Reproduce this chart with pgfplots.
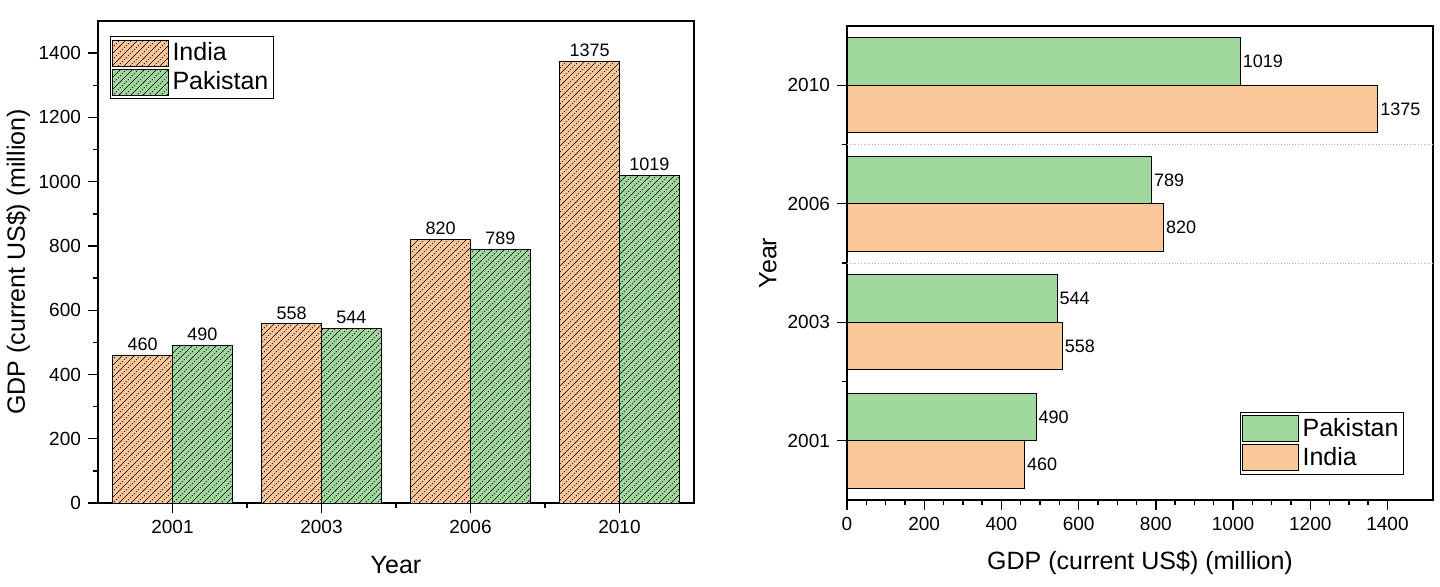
\documentclass[border=0pt]{standalone}
\usepackage{pgfplots}
\pgfplotsset{compat=1.18}
\usepackage{fontspec}
\setmainfont{Liberation Sans}
\usetikzlibrary{patterns}

\definecolor{peach}{RGB}{250,200,152}
\definecolor{leaf}{RGB}{160,216,158}

% diagonal hatch with a dotted line between the solid ones
\pgfdeclarepatternformonly{hatchdot}{\pgfqpoint{-0.5pt}{-0.5pt}}{\pgfqpoint{6.5pt}{6.5pt}}{\pgfqpoint{6pt}{6pt}}{%
  \pgfsetlinewidth{0.3pt}%
  \pgfpathmoveto{\pgfqpoint{-0.5pt}{-0.5pt}}%
  \pgfpathlineto{\pgfqpoint{6.5pt}{6.5pt}}%
  \pgfusepath{stroke}%
  \pgfsetlinewidth{0.45pt}%
  \pgfsetdash{{0.45pt}{1pt}}{0pt}%
  \pgfpathmoveto{\pgfqpoint{3pt}{0pt}}%
  \pgfpathlineto{\pgfqpoint{6pt}{3pt}}%
  \pgfpathmoveto{\pgfqpoint{0pt}{3pt}}%
  \pgfpathlineto{\pgfqpoint{3pt}{6pt}}%
  \pgfusepath{stroke}%
}

\pgfkeys{/pgf/number format/1000 sep={}}

\pgfplotsset{
  gdp/.style={
    scale only axis,
    axis line style={line width=0.7pt},
    every tick/.style={line width=0.7pt, black},
    tick align=outside,
    major tick length=5pt,
    minor tick length=2.5pt,
    tick pos=left,
    /pgf/number format/assume math mode=true,
    tick label style={font=\fontsize{9.5}{11}\selectfont},
    label style={font=\fontsize{12.5}{15}\selectfont},
    legend cell align=left,
    legend style={draw=black, line width=0.5pt, inner xsep=0.5pt, inner ysep=1pt,
      font=\fontsize{12.5}{15}\selectfont},
    nodes near coords,
    nodes near coords style={font=\fontsize{9}{11}\selectfont, black},
  },
  patch/.style={legend image code/.code={\draw[##1] (0pt,-6.5pt) rectangle (28pt,6.5pt);}},
}

\begin{document}
\begin{tikzpicture}
\useasboundingbox (0,0) rectangle (720pt,293pt);

\begin{axis}[gdp,
  at={(49pt,41.5pt)}, anchor=south west,
  width=298pt, height=241pt,
  ybar=0pt, bar width=0.4,
  xmin=-0.5, xmax=3.5, ymin=0, ymax=1500,
  xtick={0,1,2,3}, xticklabels={2001,2003,2006,2010},
  minor xtick={0.5,1.5,2.5},
  ytick={0,200,...,1400}, minor ytick={100,300,...,1300},
  xlabel={Year}, ylabel={GDP (current US\$) (million)},
  xlabel style={at={(axis description cs:0.5,-0.1286)}, anchor=center},
  ylabel style={at={(axis description cs:-0.134,0.5)}, anchor=center},
  nodes near coords style={anchor=south, inner sep=2pt},
  legend style={at={(0,1)}, anchor=north west, xshift=6pt, yshift=-7.5pt},
]
\addplot[fill=peach, draw=black, line width=0.5pt, postaction={pattern=hatchdot}, patch]
  coordinates {(0,460) (1,558) (2,820) (3,1375)};
\addplot[fill=leaf, draw=black, line width=0.5pt, postaction={pattern=hatchdot}, patch]
  coordinates {(0,490) (1,544) (2,789) (3,1019)};
\legend{India, Pakistan}
\end{axis}

\begin{axis}[gdp,
  at={(423.5pt,43pt)}, anchor=south west,
  width=293pt, height=237pt,
  xbar=0pt, bar width=0.4,
  ymin=-0.5, ymax=3.5, xmin=0, xmax=1518,
  ytick={0,1,2,3}, yticklabels={2001,2003,2006,2010},
  minor ytick={0.5,1.5,2.5},
  extra y ticks={1.5,2.5}, extra y tick labels={},
  extra y tick style={grid=major, major grid style={densely dotted, gray!60, line width=0.4pt}, every tick/.style={draw=none}},
  xtick={0,200,...,1400}, minor x tick num=3,
  xlabel={GDP (current US\$) (million)}, ylabel={Year},
  xlabel style={at={(axis description cs:0.5,-0.133)}, anchor=center},
  ylabel style={at={(axis description cs:-0.1348,0.5)}, anchor=center},
  point meta=x,
  nodes near coords style={anchor=west, inner sep=1pt},
  reverse legend,
  legend style={at={(1,0)}, anchor=south east, xshift=-14.5pt, yshift=12.5pt},
]
\addplot[fill=peach, draw=black, line width=0.5pt, patch]
  coordinates {(460,0) (558,1) (820,2) (1375,3)};
\addplot[fill=leaf, draw=black, line width=0.5pt, patch]
  coordinates {(490,0) (544,1) (789,2) (1019,3)};
\legend{India, Pakistan}
\end{axis}
\end{tikzpicture}
\end{document}
